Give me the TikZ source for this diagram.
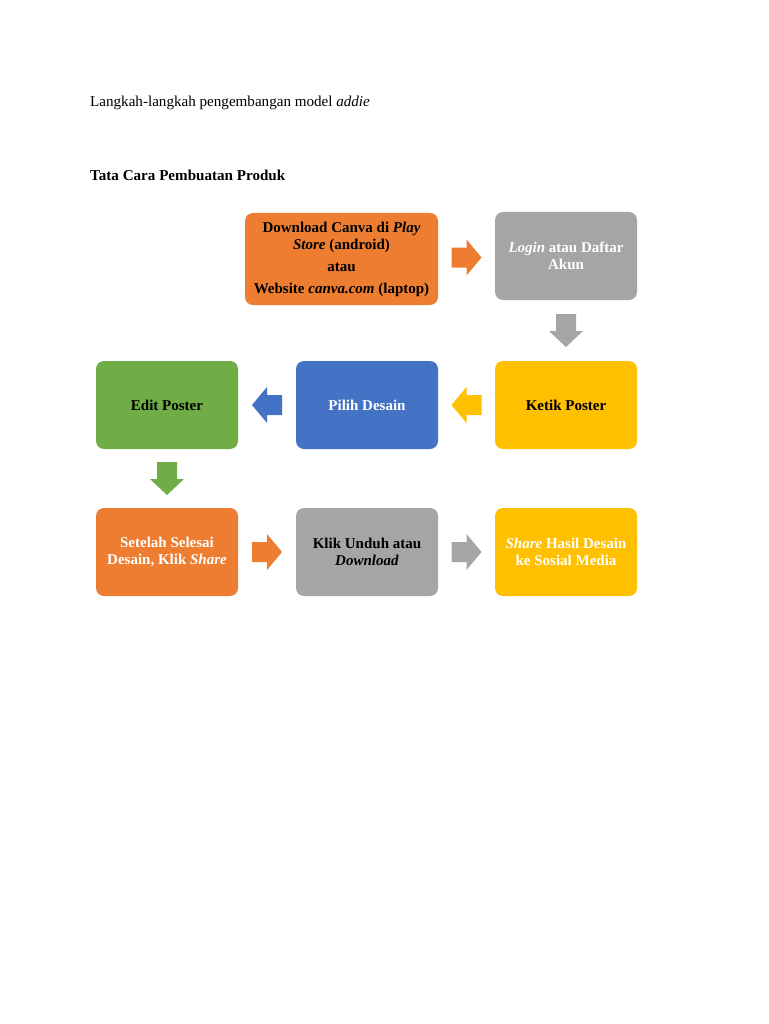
\documentclass[tikz,border=0pt]{standalone}
\usepackage{fontspec}
\setmainfont{Liberation Serif}
\definecolor{cOrange}{HTML}{ED7D31}
\definecolor{cGray}{HTML}{A5A5A5}
\definecolor{cYellow}{HTML}{FFC000}
\definecolor{cBlue}{HTML}{4472C4}
\definecolor{cGreen}{HTML}{70AD47}
\begin{document}
\begin{tikzpicture}[x=1pt,y=-1pt,
  box/.style={rounded corners=8pt, minimum width=142pt, minimum height=88pt,
    align=center, inner sep=2pt, font=\fontsize{15}{17}\selectfont\bfseries},
  pics/harr/.style={code={\path[pic actions] (-15,-10) -- (0,-10) -- (0,-18) -- (15,0) -- (0,18) -- (0,10) -- (-15,10) -- cycle;}},
  pics/varr/.style={code={\path[pic actions] (-16.5,-10) -- (0.5,-10) -- (0.5,-17) -- (16.5,0) -- (0.5,17) -- (0.5,10) -- (-16.5,10) -- cycle;}}
]
\useasboundingbox[fill=white] (0,0) rectangle (768,1024);
\node[anchor=base west, inner sep=0pt, font=\fontsize{15.1}{18}\selectfont] (title) at (90,107) {Langkah-langkah pengembangan model \textit{addie}};
\node[anchor=base west, inner sep=0pt, font=\fontsize{15.1}{18}\selectfont\bfseries] (subtitle) at (90,181) {Tata Cara Pembuatan Produk};

\node[box, fill=cOrange, minimum width=193pt, minimum height=92pt, text=black] (download) at (341.5,259)
  {Download Canva di \textit{Play}\\ \textit{Store} (android)\\[5pt] atau\\[5pt] Website \textit{canva.com} (laptop)};
\node[box, fill=cGray, text=white] (login) at (566,256) {\textit{Login} atau Daftar\\ Akun};
\node[box, fill=cYellow, text=black] (ketik) at (566,405) {Ketik Poster};
\node[box, fill=cBlue, text=white] (pilih) at (367,405) {Pilih Desain};
\node[box, fill=cGreen, text=black] (edit) at (167,405) {Edit Poster};
\node[box, fill=cOrange, text=white] (setelah) at (167,552) {Setelah Selesai\\ Desain, Klik \textit{Share}};
\node[box, fill=cGray, text=black] (klik) at (367,552) {Klik Unduh atau\\ \textit{Download}};
\node[box, fill=cYellow, text=white] (share) at (566,552) {\textit{Share} Hasil Desain\\ ke Sosial Media};

\path (download.east) -- (login.west) coordinate[midway] (m1);
\path (login.south) -- (ketik.north) coordinate[midway] (m2);
\path (ketik.west) -- (pilih.east) coordinate[midway] (m3);
\path (pilih.west) -- (edit.east) coordinate[midway] (m4);
\path (edit.south) -- (setelah.north) coordinate[midway] (m5);
\path (setelah.east) -- (klik.west) coordinate[midway] (m6);
\path (klik.east) -- (share.west) coordinate[midway] (m7);

\pic[fill=cOrange] at (m1) {harr};
\pic[fill=cGray, rotate=-90] at (m2) {varr};
\pic[fill=cYellow, rotate=180] at (m3) {harr};
\pic[fill=cBlue, rotate=180] at (m4) {harr};
\pic[fill=cGreen, rotate=-90] at (m5) {varr};
\pic[fill=cOrange] at (m6) {harr};
\pic[fill=cGray] at (m7) {harr};
\end{tikzpicture}
\end{document}
